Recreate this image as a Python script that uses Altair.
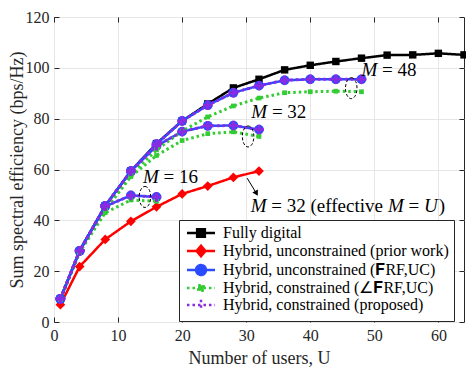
import altair as alt
import pandas as pd

# ---------------- data ----------------
series_names = [
    "Fully digital",
    "Hybrid, unconstrained (prior work)",
    "Hybrid, unconstrained (\U0001D405RF,UC)",
    "Hybrid, constrained (\u2220\U0001D405RF,UC)",
    "Hybrid, constrained (proposed)",
]
series_colors = ["#000000", "#ff0000", "#2a4bff", "#33cc33", "#8a2be2"]

U_all = [1, 4, 8, 12, 16, 20, 24, 28, 32, 36, 40, 44, 48, 52, 56, 60, 64]
se_fd = [9.2, 28.0, 45.7, 59.4, 70.2, 79.1, 85.8, 92.1, 95.5, 99.2, 101.0, 102.5,
         103.8, 105.0, 105.1, 105.7, 105.1]

U_16 = [1, 4, 8, 12, 16]
U_32 = [1, 4, 8, 12, 16, 20, 24, 28, 32]
U_48 = [1, 4, 8, 12, 16, 20, 24, 28, 32, 36, 40, 44, 48]

se_prior = [6.8, 21.8, 32.5, 39.6, 45.3, 50.4, 53.5, 56.9, 59.4]

se_uc_16 = [9.1, 28.0, 45.5, 49.8, 49.2]
se_uc_32 = [9.1, 28.0, 45.7, 59.3, 69.3, 74.9, 77.2, 77.3, 75.7]
se_uc_48 = [9.1, 28.0, 45.7, 59.4, 70.0, 79.1, 85.3, 90.2, 93.0, 95.1, 95.5, 95.5, 95.5]

se_ang_16 = [9.0, 27.5, 43.0, 48.0, 47.5]
se_ang_32 = [9.0, 27.5, 44.0, 57.2, 65.5, 71.4, 74.1, 74.8, 73.0]
se_ang_48 = [9.0, 27.5, 44.5, 58.0, 67.7, 75.1, 80.7, 85.0, 88.1, 90.2, 90.6, 90.8, 90.6]

se_prop_16 = [9.1, 28.0, 45.5, 49.8, 49.2]
se_prop_32 = [9.1, 28.0, 45.7, 59.3, 69.3, 74.9, 77.2, 77.3, 75.7]
se_prop_48 = [9.1, 28.0, 45.7, 59.4, 70.0, 79.1, 85.3, 90.2, 93.0, 95.1, 95.5, 95.5, 95.5]

x_ticks = [0, 10, 20, 30, 40, 50, 60]
y_ticks = [0, 20, 40, 60, 80, 100, 120]

# "M = 16", "M = 32", "M = 48" labels next to the curve groups
ann_var = ["M", "M", "M"]
ann_rest = ["= 16", "= 32", "= 48"]
ann_U = [13.9, 30.8, 48.0]
ann_se = [56.9, 82.5, 99.2]

# "M = 32 (effective M = U)" label for the prior-work curve
eff_parts = ["M", "= 32 (effective", "M", "=", "U", ")"]
eff_italic = [True, False, True, False, True, False]
eff_U = [30.7]
eff_se = [45.5]

ell_U = [14.2, 30.3, 46.4]
ell_se = [49.2, 73.0, 92.0]

arrow_U = [30.15]
arrow_se = [56.6]
arrow_U2 = [31.6]
arrow_se2 = [50.6]

# ---------------- frames ----------------
def frame(U, vals, name, grp):
    return pd.DataFrame({"U": U, "value": vals, "series": name, "grp": grp})

df_fd = frame(U_all[:len(se_fd)], se_fd, series_names[0], "fd")
df_prior = frame(U_32, se_prior, series_names[1], "prior")
df_uc = pd.concat([frame(U_16, se_uc_16, series_names[2], "16"),
                   frame(U_32, se_uc_32, series_names[2], "32"),
                   frame(U_48, se_uc_48, series_names[2], "48")])
df_ang = pd.concat([frame(U_16, se_ang_16, series_names[3], "16"),
                    frame(U_32, se_ang_32, series_names[3], "32"),
                    frame(U_48, se_ang_48, series_names[3], "48")])
df_prop = pd.concat([frame(U_16, se_prop_16, series_names[4], "16"),
                     frame(U_32, se_prop_32, series_names[4], "32"),
                     frame(U_48, se_prop_48, series_names[4], "48")])
df_var = pd.DataFrame({"U": ann_U, "value": ann_se, "label": ann_var})
df_rest = pd.DataFrame({"U": ann_U, "value": ann_se, "label": ann_rest})
df_ell = pd.DataFrame({"U": ell_U, "value": ell_se})
df_arrow = pd.DataFrame({"U": arrow_U, "value": arrow_se, "U2": arrow_U2, "value2": arrow_se2})
df_leg = pd.DataFrame({"series": series_names})

# ---------------- styling ----------------
FONT = "Liberation Serif"
INK = "#262626"
W, H = 410, 305
ANN_SIZE = 19

xs = alt.Scale(domain=[0, 64], nice=False, zero=False)
ys = alt.Scale(domain=[0, 120], nice=False, zero=False)
cscale = alt.Scale(domain=series_names, range=series_colors)
DOT = [2.5, 3]
dashes = [[1, 0], [1, 0], [1, 0], DOT, DOT]
dscale = alt.Scale(domain=series_names, range=dashes)

main_x_axis = alt.Axis(title="Number of users, U", values=x_ticks, grid=True,
                       gridColor="#e6e6e6", ticks=False, domain=False,
                       labelFont=FONT, labelFontSize=16, labelColor=INK,
                       labelPadding=5, labelFlush=False,
                       titleFont=FONT, titleFontSize=18, titleFontWeight="normal",
                       titleColor=INK, titlePadding=6)
main_y_axis = alt.Axis(title="Sum spectral efficiency (bps/Hz)", values=y_ticks,
                       grid=True, gridColor="#e6e6e6", ticks=False, domain=False,
                       labelFont=FONT, labelFontSize=16, labelColor=INK,
                       labelPadding=5, titleFont=FONT, titleFontSize=18,
                       titleFontWeight="normal", titleColor=INK,
                       titleX=-37, titleBaseline="middle")

def X(axis=main_x_axis):
    return alt.X("U:Q", scale=xs, axis=axis)

def Y(axis=main_y_axis):
    return alt.Y("value:Q", scale=ys, axis=axis)

def lines(df, i, width=2.5):
    return alt.Chart(df).mark_line(strokeWidth=width, color=series_colors[i],
                                   strokeDash=dashes[i]).encode(
        x=X(), y=Y(), detail="grp:N")

def points(df, i, **kw):
    return alt.Chart(df).mark_point(color=series_colors[i], opacity=1, **kw).encode(
        x=X(), y=Y())

PLUS = "M0,-1V1M-1,0H1"
layers = [
    lines(df_fd, 0), points(df_fd, 0, shape="square", filled=True, size=55),
    lines(df_prior, 1), points(df_prior, 1, shape="diamond", filled=True, size=95),
    lines(df_uc, 2), points(df_uc, 2, shape="circle", filled=True, size=95),
    lines(df_ang, 3, 3), points(df_ang, 3, shape="square", filled=True, size=22),
    lines(df_prop, 4, 3), points(df_prop, 4, shape=PLUS, filled=False, size=90, strokeWidth=3),
]

# annotations
ELLIPSE = "M0,-1A0.55,1 0 1,1 0,1A0.55,1 0 1,1 0,-1Z"
layers.append(alt.Chart(df_ell).mark_point(shape=ELLIPSE, filled=False, size=441,
                                            strokeDash=[3, 2], strokeWidth=1,
                                            color="#000000", opacity=1)
              .encode(x=X(), y=Y()))
layers.append(alt.Chart(df_arrow).mark_rule(color="#000000", strokeWidth=1)
              .encode(x=X(), y=Y(), x2="U2:Q", y2="value2:Q"))
layers.append(alt.Chart(df_arrow).mark_point(shape="triangle-up", filled=True, size=40,
                                              angle=151, color="#000000", opacity=1)
              .encode(x=alt.X("U2:Q", scale=xs, axis=main_x_axis),
                      y=alt.Y("value2:Q", scale=ys, axis=main_y_axis)))

def text_layer(df, italic=False, dx=0):
    return alt.Chart(df).mark_text(align="left", baseline="middle", font=FONT,
                                   fontSize=ANN_SIZE, color="#000000", dx=dx,
                                   fontStyle="italic" if italic else "normal"
                                   ).encode(x=X(), y=Y(), text="label:N")

# Times-like advance widths (em) used to place the mixed italic/roman pieces
ADV = {"M": 0.833, "U": 0.722, "=": 0.564, " ": 0.25, "3": 0.5, "2": 0.5, "(": 0.333,
       ")": 0.333, "e": 0.444, "f": 0.333, "c": 0.444, "t": 0.278, "i": 0.278, "v": 0.5}
def width(s):
    return sum(ADV.get(ch, 0.5) for ch in s) * ANN_SIZE

SP = ADV[" "] * ANN_SIZE
layers.append(text_layer(df_var, italic=True))
layers.append(text_layer(df_rest, dx=width("M") + SP))
off = 0.0
for k, (part, it) in enumerate(zip(eff_parts, eff_italic)):
    df_part = pd.DataFrame({"U": eff_U, "value": eff_se, "label": [part]})
    layers.append(text_layer(df_part, italic=it, dx=round(off, 1)))
    nxt = eff_parts[k + 1] if k + 1 < len(eff_parts) else ""
    off += width(part) + (0 if nxt == ")" else SP) + (1 if it and nxt == ")" else 0)

# legend proxy layer (its points are clipped away; it only provides the legend)
SYM = [
    "M-2.55,0H2.55M-0.7,-0.7H0.7V0.7H-0.7Z",
    "M-2.55,0H2.55M0,-0.95L0.8,0L0,0.95L-0.8,0Z",
    "M-2.55,0H2.55M-0.9,0A0.9,0.9 0 1,0 0.9,0A0.9,0.9 0 1,0 -0.9,0Z",
    "M-2.55,0H2.55M-0.5,-0.5H0.5V0.5H-0.5Z",
    "M-2.55,0H2.55M0,-0.95V0.95",
]
leg = alt.Legend(orient="none", legendX=125, legendY=203, title=None,
                 labelFont=FONT, labelFontSize=16, labelColor="#000000",
                 fillColor="white", strokeColor=INK, padding=5,
                 symbolSize=121, symbolStrokeWidth=2.5, symbolOffset=9,
                 labelOffset=14, rowPadding=-2, labelLimit=400, cornerRadius=0)
layers.append(alt.Chart(df_leg).mark_point(clip=True, size=121, strokeWidth=2.5, opacity=1)
              .encode(x=alt.value(-60), y=alt.value(-60),
                      stroke=alt.Stroke("series:N", scale=cscale, legend=leg),
                      fill=alt.Fill("series:N", scale=cscale, legend=leg),
                      shape=alt.Shape("series:N", scale=alt.Scale(domain=series_names, range=SYM), legend=leg),
                      strokeDash=alt.StrokeDash("series:N", scale=dscale, legend=leg)))

data_layer = alt.layer(*layers)

# inward ticks (MATLAB style)
tick_kw = dict(labels=False, domain=False, grid=False, title="", tickSize=5,
               tickColor=INK, tickWidth=1, offset=-5)
ticks_bl = alt.Chart(df_fd).mark_point(opacity=0).encode(
    x=alt.X("U:Q", scale=xs, axis=alt.Axis(orient="bottom", values=x_ticks, **tick_kw)),
    y=alt.Y("value:Q", scale=ys, axis=alt.Axis(orient="left", values=y_ticks, **tick_kw)))
ticks_tr = alt.Chart(df_fd).mark_point(opacity=0).encode(
    x=alt.X("U:Q", scale=xs, axis=alt.Axis(orient="top", values=x_ticks, **tick_kw)),
    y=alt.Y("value:Q", scale=ys, axis=alt.Axis(orient="right", values=y_ticks, **tick_kw)))

chart = (alt.layer(data_layer, ticks_bl, ticks_tr)
         .resolve_axis(x="independent", y="independent")
         .properties(width=W, height=H, autosize=alt.AutoSizeParams(type="none"),
                     padding={"left": 46, "top": 9, "right": 2, "bottom": 45},
                     background="white")
         .configure_view(stroke=INK, strokeWidth=1))

chart.save("out.html", embed_options={"renderer": "svg", "actions": False})
